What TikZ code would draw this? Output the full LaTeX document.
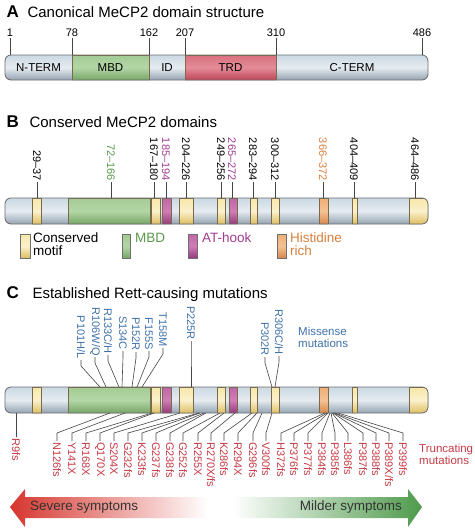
\documentclass[tikz,border=0pt]{standalone}
\usepackage{fontspec}
\setmainfont{Liberation Sans}
\usetikzlibrary{calc}
\definecolor{misblue}{HTML}{3F72AA}
\definecolor{trured}{HTML}{C73A45}
\definecolor{lgreen}{HTML}{5A9A4A}
\definecolor{lmag}{HTML}{A03C90}
\definecolor{lorange}{HTML}{D9803C}
\definecolor{conline}{HTML}{454545}
\definecolor{bandedge}{HTML}{7A6A4A}
\definecolor{barline}{HTML}{6E6E6E}
\definecolor{sred}{HTML}{D6352D}
\definecolor{sgreen}{HTML}{4E9A4B}
\definecolor{symtext}{HTML}{333333}
\pgfdeclarehorizontalshading{symp}{100bp}{color(0bp)=(sred); color(25bp)=(sred); color(49bp)=(white); color(52bp)=(white); color(75bp)=(sgreen); color(100bp)=(sgreen)}
\tikzset{
  barshade/.style={top color=HTMLcbd8e2, bottom color=HTML94a3b2, middle color=HTMLe6ecf1},
}
\definecolor{HTMLcbd8e2}{HTML}{CBD8E2}
\definecolor{HTML94a3b2}{HTML}{94A3B2}
\definecolor{HTMLe6ecf1}{HTML}{E6ECF1}
\definecolor{cyA}{HTML}{F6E7A8}\definecolor{cyB}{HTML}{FBF1CC}\definecolor{cyC}{HTML}{DDBE62}
\definecolor{gA}{HTML}{A3CB94}\definecolor{gB}{HTML}{B4D6A7}\definecolor{gC}{HTML}{76A666}
\definecolor{mA}{HTML}{C165A6}\definecolor{mB}{HTML}{D07DB6}\definecolor{mC}{HTML}{963A7C}
\definecolor{oA}{HTML}{EFAE76}\definecolor{oB}{HTML}{F5C293}\definecolor{oC}{HTML}{D5874C}
\definecolor{rA}{HTML}{D9707E}\definecolor{rB}{HTML}{E48C98}\definecolor{rC}{HTML}{BE4558}
\tikzset{
  consY/.style={top color=cyA, bottom color=cyC, middle color=cyB, draw=bandedge, line width=0.5pt},
  mbdG/.style={top color=gA, bottom color=gC, middle color=gB, draw=bandedge, line width=0.5pt},
  atM/.style={top color=mA, bottom color=mC, middle color=mB, draw=bandedge, line width=0.5pt},
  hisO/.style={top color=oA, bottom color=oC, middle color=oB, draw=bandedge, line width=0.5pt},
  trdR/.style={top color=rA, bottom color=rC, middle color=rB, draw=bandedge, line width=0.5pt},
  outl/.style={draw=barline, line width=0.8pt, rounded corners=6pt},
  con/.style={draw=conline, line width=0.6pt},
  ttl/.style={anchor=base west, font=\fontsize{15}{18}\selectfont},
  ltr/.style={anchor=base west, font=\fontsize{17}{18}\selectfont\bfseries},
  alab/.style={font=\fontsize{11}{12}\selectfont, inner sep=1pt},
  inbar/.style={font=\fontsize{11.5}{12}\selectfont, inner sep=0pt},
  blab/.style={rotate=-90, anchor=east, font=\fontsize{11}{12}\selectfont, inner sep=1pt},
  mis/.style={rotate=-90, anchor=east, text=misblue, font=\fontsize{11}{12}\selectfont, inner sep=1pt},
  tru/.style={rotate=-90, anchor=west, text=trured, font=\fontsize{11}{12}\selectfont, inner sep=1pt},
  leg/.style={anchor=north west, align=left, font=\fontsize{13.5}{12.5}\selectfont, inner sep=0pt},
  note/.style={anchor=north west, align=left, font=\fontsize{11.5}{11.5}\selectfont, inner sep=0pt},
  symt/.style={text=symtext, font=\fontsize{13.5}{14}\selectfont, inner sep=0pt},
}
\newcommand\mecpbands{%
  \fill[consY] (32,0) rectangle (41,26);
  \fill[mbdG] (68,0) rectangle (150,26);
  \fill[consY] (151,0) rectangle (160,26);
  \fill[atM] (162,0) rectangle (171,26);
  \fill[consY] (179,0) rectangle (193,26);
  \fill[consY] (217,0) rectangle (225,26);
  \fill[atM] (229,0) rectangle (237,26);
  \fill[consY] (250,0) rectangle (257,26);
  \fill[consY] (271,0) rectangle (279,26);
  \fill[hisO] (319,0) rectangle (328,26);
  \fill[consY] (352,0) rectangle (357,26);
  \fill[consY] (409,0) rectangle (432,26);
  \path[consY] (32,0) rectangle (41,26);
}
\begin{document}
\begin{tikzpicture}[x=1pt,y=-1pt]
\useasboundingbox (0,0) rectangle (474,530);
\fill[white] (0,0) rectangle (474,530);

% ---------------- Panel A ----------------
\node[ltr] (la) at (3,17) {A};
\node[ttl] (ta) at (24,17) {Canonical MeCP2 domain structure};
\begin{scope}
  \clip[rounded corners=6pt] (5,55) rectangle (428,80);
  \fill[barshade] (5,55) rectangle (428,80);
  \fill[mbdG] (72,55) rectangle (149,80);
  \fill[trdR] (185,55) rectangle (276,80);
  \draw[bandedge, line width=0.5pt] (149,55) -- (149,80) (276,55) -- (276,80);
\end{scope}
\draw[outl] (5,55) rectangle (428,80);
\node[inbar] (n1) at (38.5,68) {N-TERM};
\node[inbar] (n2) at (110.5,68) {MBD};
\node[inbar] (n3) at (167,68) {ID};
\node[inbar] (n4) at (230.5,68) {TRD};
\node[inbar] (n5) at (352,68) {C-TERM};
\coordinate (atop) at (0,55);
\foreach \x/\t [count=\i] in {10/1,72/78,149/162,185/207,276/310,422/486}{
  \node[alab] (a\i) at (\x,33) {\t};
  \draw[con] (a\i.south) -- (a\i.south |- atop);
}

% ---------------- Panel B ----------------
\node[ltr] (lb) at (3,127) {B};
\node[ttl] (tb) at (26,127) {Conserved MeCP2 domains};
\begin{scope}[shift={(0,198)}]
  \clip[rounded corners=6pt] (5,0) rectangle (428,26);
  \fill[barshade] (5,0) rectangle (428,26);
  \mecpbands
\end{scope}
\draw[outl] (5,198) rectangle (428,224);
\coordinate (btop) at (0,198);
\foreach \x/\t/\c [count=\i] in {37/{29–37}/black,111/{72–166}/lgreen,154/{167–180}/black,166/{185–194}/lmag,186/{204–226}/black,221/{249–256}/black,232/{265–272}/lmag,253/{283–294}/black,275/{300–312}/black,323/{366–372}/lorange,354/{404–409}/black,415/{464–486}/black}{
  \node[blab, text=\c] (b\i) at (\x,182) {\t};
  \draw[con] (b\i.east) -- (b\i.east |- btop);
}
% legend
\fill[consY, draw=barline] (20,234) rectangle (30,258);
\node[leg] (g1) at (33,233) {Conserved\\motif};
\fill[mbdG, draw=barline] (122,234) rectangle (130,258);
\node[leg, text=lgreen] (g2) at (135,233) {MBD};
\fill[atM, draw=barline] (188,234) rectangle (197,258);
\node[leg, text=lmag] (g3) at (202,233) {AT-hook};
\fill[hisO, draw=barline] (277,234) rectangle (286,258);
\node[leg, text=lorange] (g4) at (290,233) {Histidine\\rich};

% ---------------- Panel C ----------------
\node[ltr] (lc) at (3,298) {C};
\node[ttl] (tc) at (29,298) {Established Rett-causing mutations};
\begin{scope}[shift={(0,387)}]
  \clip[rounded corners=6pt] (5,0) rectangle (428,26);
  \fill[barshade] (5,0) rectangle (428,26);
  \mecpbands
\end{scope}
\draw[outl] (5,387) rectangle (428,413);

% missense
\foreach \lx/\ly/\px/\t [count=\i] in {81/360/100/{P101H/L},95/357/106/{R106W/Q},108/355/119/{R133C/H},123/351/122/{S134C},136/352/132/{P152R},149/351/137/{F155S},163/348/142/{T158M},191/341/191/{P225R},265/357/272/{P302R},279/356/275/{R306C/H}}{
  \node[mis] (m\i) at (\lx,\ly) {\t};
  \coordinate (mp\i) at (\px,387);
  \draw[con] (m\i.east) -- ++(0,6) -- (mp\i);
}
\node[note, text=misblue] (mnote) at (298,327) {Missense\\mutations};

% truncating
\node[tru] (r9) at (16,437) {R9fs};
\coordinate (r9p) at (16,413);
\draw[con] (r9.west) -- (r9p);
\foreach \lx/\px/\t [count=\i] in {57/110/{N126fs},72/125/{Y141X},86/152/{R168X},100/154/{Q170X},114/180/{S204X},128/199/{G232fs},142/200/{K233fs},156/204/{G237fs},170/206/{G238fs},183/220/{G252fs},198/224/{R255X},211/235/{R270X/fs},224/252/{K286fs},238/257/{R294X},253/262/{G296fs},266/272/{V300fs},281/325/{H372fs},294/327/{P376fs},308/328/{P377fs},322/330/{P384fs},335/331/{P385fs},348/332/{L386fs},363/333/{P387fs},376/334/{P388fs},389/335/{P389X/fs},403/338/{P399fs}}{
  \node[tru] (t\i) at (\lx,441) {\t};
  \coordinate (tp\i) at (\px,413);
  \draw[con] (t\i.west) -- ++(0,-8) -- (tp\i);
}
\node[note, text=trured] (tnote) at (419,444) {Truncating\\mutations};

% symptom arrow
\shade[shading=symp] (10,507) -- (25,489) -- (25,497) -- (408,497) -- (408,489) -- (422,507) -- (408,527) -- (408,518) -- (25,518) -- (25,527) -- cycle;
\node[symt, anchor=west] (sev) at (30,507.5) {Severe symptoms};
\node[symt, anchor=east] (mil) at (402,507.5) {Milder symptoms};
\end{tikzpicture}
\end{document}
